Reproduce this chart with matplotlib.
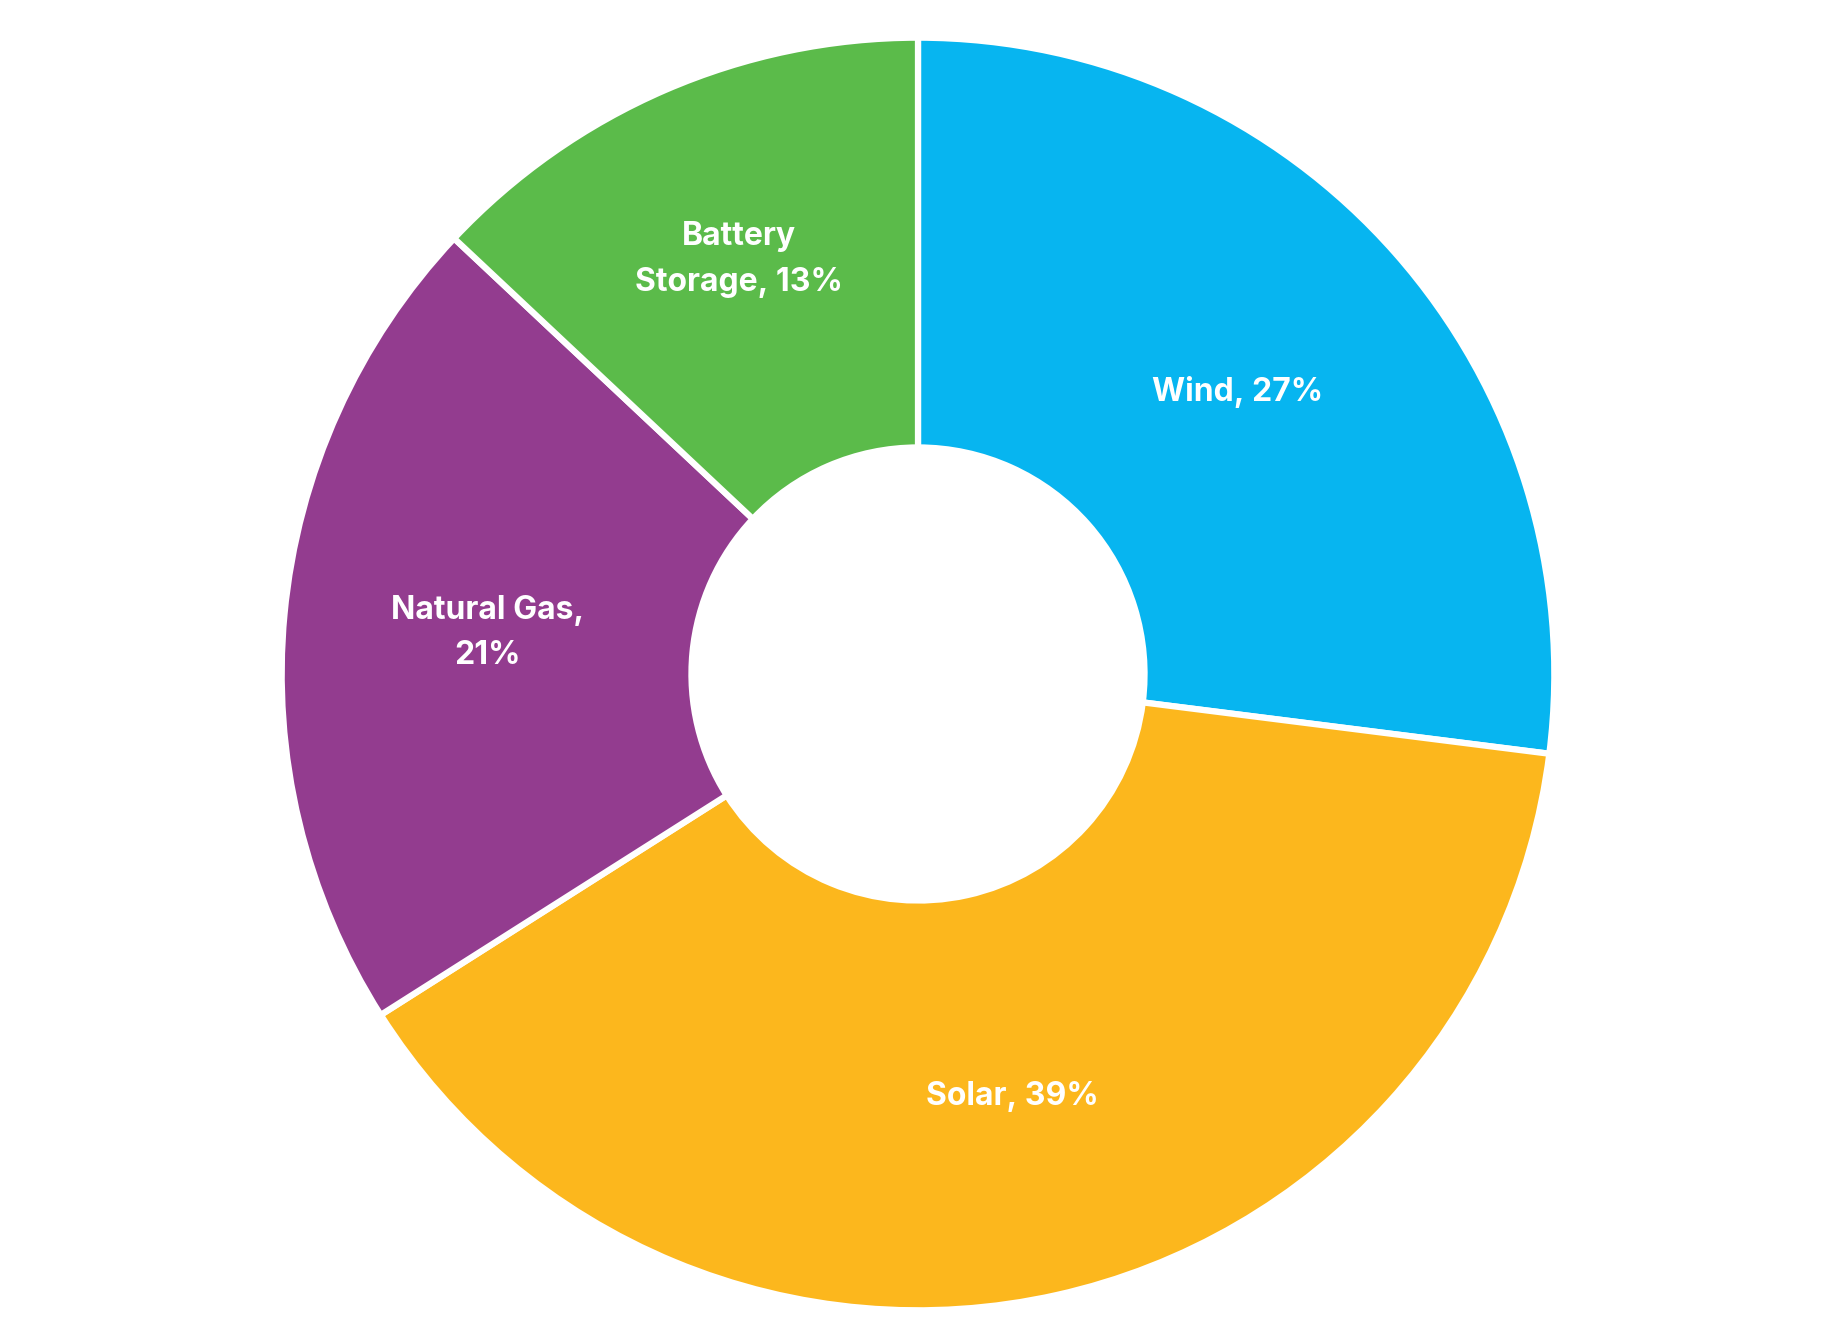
import matplotlib
matplotlib.use("Agg")
import matplotlib.pyplot as plt
import numpy as np

labels = ["Wind, 27%", "Solar, 39%", "Natural Gas,\n21%", "Battery\nStorage, 13%"]
values = [27, 39, 21, 13]
colors = ["#07B5F0", "#FCB71D", "#933C8F", "#5BBB4A"]

fig = plt.figure(figsize=(18.36, 13.32), dpi=100)
h = 0.965
w = h * 13.32 / 18.36
ax = fig.add_axes([0.5 - w/2, 0.494 - h/2, w, h])
wedges, _ = ax.pie(values, colors=colors, startangle=90, counterclock=False,
                   wedgeprops=dict(width=0.644, edgecolor="white", linewidth=4.5))
dists = [0.67, 0.68, 0.68, 0.71]
for wd, lab, d in zip(wedges, labels, dists):
    ang = np.deg2rad((wd.theta1 + wd.theta2) / 2)
    ax.text(d*np.cos(ang), d*np.sin(ang), lab, ha="center", va="center",
            color="white", fontsize=23, fontweight="bold", family=["Inter", "DejaVu Sans"],
            linespacing=1.6)
ax.set_aspect("equal")
ax.set_xlim(-1.01, 1.01)
ax.set_ylim(-1.01, 1.01)
ax.axis("off")
fig.savefig("out.png", dpi=100, facecolor="white")
